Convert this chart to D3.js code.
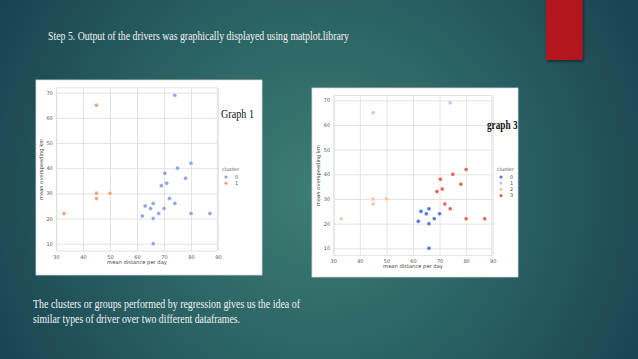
<!DOCTYPE html>
<html><head><meta charset="utf-8">
<script src="https://cdn.jsdelivr.net/npm/d3@7"></script>
<style>html,body{margin:0;padding:0;background:#1d4a56;}svg{display:block;}</style>
</head><body>
<svg id="c" width="638" height="359"></svg>
<script>
// ---------- data ----------
const meanDistance   = [45,45,45,50,33, 74,75,80,78,70.3,71,69,72,74,66,63,65,70,68,62,66,80,87,66];
const meanOverspeed  = [65,30,28,30,22, 69,40,42,36,38,34,33,28,26,26,25,24,24,22,21,20,22,22,10];
const graph1Cluster  = [1,1,1,1,1, 0,0,0,0,0,0,0,0,0,0,0,0,0,0,0,0,0,0,0];
const graph3Cluster  = [1,2,2,2,2, 1,3,3,3,3,3,3,3,3,0,0,0,0,0,0,0,3,3,0];
const xTicks = [30,40,50,60,70,80,90];
const yTicks = [10,20,30,40,50,60,70];
const graph1Legend = ["0","1"];
const graph3Legend = ["0","1","2","3"];
const graph1Colors = ["#8ea4e6","#eea27c"];
const graph3Colors = ["#5677d8","#bccbef","#f2c4a8","#dd6656"];
const titleText = "Step 5. Output of the drivers was graphically displayed using matplot.library";
const bodyLines = ["The  clusters or groups performed by regression gives us the idea of",
                   "similar types of driver over two different dataframes."];

const svg = d3.select("#c");
const defs = svg.append("defs");
const rg = defs.append("radialGradient").attr("id","bg").attr("gradientUnits","userSpaceOnUse")
  .attr("cx",320).attr("cy",190).attr("r",420);
rg.append("stop").attr("offset",0).attr("stop-color","#3d7d72");
rg.append("stop").attr("offset",0.45).attr("stop-color","#2a6264");
rg.append("stop").attr("offset",1).attr("stop-color","#143a4c");
svg.append("rect").attr("width",638).attr("height",359).attr("fill","url(#bg)");

// red bar
const sh = defs.append("filter").attr("id","sh").attr("x","-20%").attr("y","-20%").attr("width","140%").attr("height","140%");
sh.append("feDropShadow").attr("dx",1).attr("dy",1.5).attr("stdDeviation",1.5).attr("flood-color","#000").attr("flood-opacity",0.5);
svg.append("rect").attr("x",546).attr("y",-2).attr("width",36.5).attr("height",62).attr("fill","#b3191a").attr("filter","url(#sh)");

// texts
svg.append("text").attr("x",48).attr("y",40).attr("font-family","Liberation Serif").attr("font-size",11.5)
  .attr("fill","#f2f2f2").attr("textLength",301).attr("lengthAdjust","spacingAndGlyphs").text(titleText);
bodyLines.forEach((t,i)=>{
  svg.append("text").attr("x",33).attr("y",308+i*15).attr("font-family","Liberation Serif").attr("font-size",11.5)
    .attr("fill","#f2f2f2").attr("textLength",i===0?267:207).attr("lengthAdjust","spacingAndGlyphs").text(t);
});

function panel(cfg){
  const g = svg.append("g");
  g.append("rect").attr("x",cfg.px).attr("y",cfg.py).attr("width",cfg.pw).attr("height",cfg.ph)
    .attr("fill","#ffffff").attr("stroke","#d8d8d8").attr("stroke-width",0.8);
  const x = d3.scaleLinear().domain([30.3,89.7]).range([cfg.x0,cfg.x1]);
  const y = d3.scaleLinear().domain([7.05,71.95]).range([cfg.y1,cfg.y0]);
  const gx = g.append("g").attr("transform",`translate(0,${cfg.y1})`)
    .call(d3.axisBottom(x).tickValues(xTicks).tickSize(-(cfg.y1-cfg.y0)).tickPadding(4).tickFormat(d3.format("d")));
  const gy = g.append("g").attr("transform",`translate(${cfg.x0},0)`)
    .call(d3.axisLeft(y).tickValues(yTicks).tickSize(-(cfg.x1-cfg.x0)).tickPadding(4).tickFormat(d3.format("d")));
  [gx,gy].forEach(a=>{
    a.select(".domain").remove();
    a.selectAll(".tick line").attr("stroke","#dcdcdc").attr("stroke-width",0.8);
    a.selectAll(".tick text").attr("fill","#555").attr("font-size",5).attr("font-family","DejaVu Sans");
  });
  g.append("rect").attr("x",cfg.x0).attr("y",cfg.y0).attr("width",cfg.x1-cfg.x0).attr("height",cfg.y1-cfg.y0)
    .attr("fill","none").attr("stroke","#dcdcdc").attr("stroke-width",0.8);
  g.append("text").attr("x",(cfg.x0+cfg.x1)/2).attr("y",cfg.y1+12.5).attr("text-anchor","middle")
    .attr("font-size",5.2).attr("font-family","DejaVu Sans").attr("fill","#444").text("mean distance per day");
  g.append("text").attr("transform",`translate(${cfg.x0-14},${(cfg.y0+cfg.y1)/2}) rotate(-90)`).attr("text-anchor","middle")
    .attr("font-size",5.2).attr("font-family","DejaVu Sans").attr("fill","#444").text("mean overspeeding km");
  g.append("g").selectAll("circle").data(meanDistance.map((d,i)=>i)).join("circle")
    .attr("cx",i=>x(meanDistance[i])).attr("cy",i=>y(meanOverspeed[i])).attr("r",2)
    .attr("fill",i=>cfg.colors[cfg.cluster[i]]).attr("stroke","#fff").attr("stroke-width",0.4);
  const lg = g.append("g").attr("transform",`translate(${cfg.lx},${cfg.ly})`);
  lg.append("text").attr("x",0).attr("y",0).attr("font-size",5).attr("font-family","DejaVu Sans").attr("fill","#555").text("cluster");
  cfg.legend.forEach((l,i)=>{
    lg.append("circle").attr("cx",4).attr("cy",6+i*6.2).attr("r",1.6).attr("fill",cfg.colors[i]);
    lg.append("text").attr("x",13).attr("y",7.8+i*6.2).attr("font-size",5).attr("font-family","DejaVu Sans").attr("fill","#555").text(l);
  });
  g.append("text").attr("x",cfg.tx).attr("y",cfg.ty).attr("font-family","Liberation Serif").attr("font-size",cfg.tsize)
    .attr("font-weight",cfg.tweight).attr("fill","#111").attr("textLength",cfg.tlen).attr("lengthAdjust","spacingAndGlyphs").text(cfg.title);
}

panel({px:36,py:80,pw:226,ph:195,x0:56.8,x1:217.2,y0:87.8,y1:251.1,
  cluster:graph1Cluster,colors:graph1Colors,legend:graph1Legend,lx:222,ly:171,
  title:"Graph 1",tx:221,ty:118,tsize:12,tweight:"normal",tlen:33});
panel({px:312,py:88,pw:206,ph:189,x0:334.1,x1:491.9,y0:95.5,y1:255.6,
  cluster:graph3Cluster,colors:graph3Colors,legend:graph3Legend,lx:497,ly:171,
  title:"graph 3",tx:487,ty:129,tsize:11.5,tweight:"bold",tlen:30.5});
</script>
</body></html>
